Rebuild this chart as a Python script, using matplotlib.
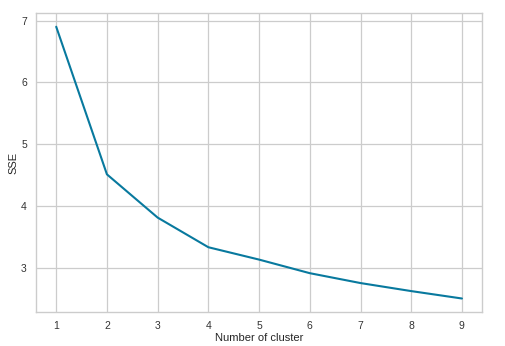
import matplotlib
matplotlib.use("Agg")
import matplotlib.pyplot as plt
import seaborn as sns

# elbow curve values
clusters = [1, 2, 3, 4, 5, 6, 7, 8, 9]
sse = [6.90, 4.51, 3.81, 3.33, 3.13, 2.91, 2.75, 2.62, 2.50]

sns.set_style("whitegrid")
plt.rcParams['font.family'] = ['Liberation Sans', 'DejaVu Sans']

fig = plt.figure(figsize=(5.06, 3.46), dpi=100)
ax = fig.add_axes([0.071, 0.098, 0.882, 0.864])

ax.plot(clusters, sse, color="#08799e", linewidth=1.5)

ax.set_xlabel("Number of cluster", fontsize=8, color="#262626", labelpad=1)
ax.set_ylabel("SSE", fontsize=8, color="#262626", labelpad=2)
ax.tick_params(labelsize=7.5, colors="#333333", pad=3)
ax.set_yticks([3, 4, 5, 6, 7])

for s in ax.spines.values():
    s.set_color("#cccccc")
    s.set_linewidth(1.0)
ax.grid(color="#cccccc", linewidth=0.9)

fig.savefig("out.png", dpi=100)
